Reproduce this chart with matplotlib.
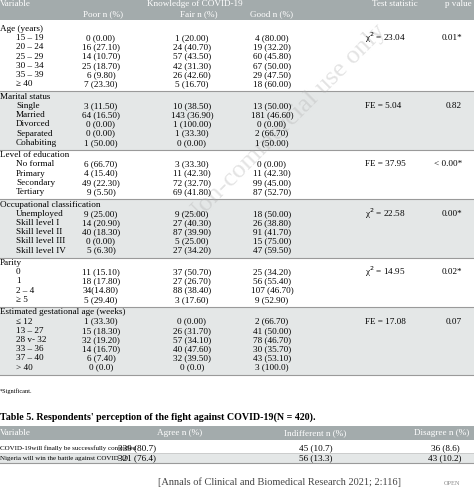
import matplotlib.pyplot as plt
from matplotlib.patches import Rectangle

plt.rcParams["font.family"] = ["Liberation Serif", "DejaVu Serif"]

groups = ["Age (years)", "Marital status", "Level of education",
          "Occupational classification", "Parity", "Estimated gestational age (weeks)"]
levels = [
    ["15 – 19", "20 – 24", "25 – 29", "30 – 34", "35 – 39", "≥ 40"],
    ["Single", "Married", "Divorced", "Separated", "Cohabiting"],
    ["No formal", "Primary", "Secondary", "Tertiary"],
    ["Unemployed", "Skill level I", "Skill level II", "Skill level III", "Skill level IV"],
    ["0", "1", "2 – 4", "≥ 5"],
    ["≤ 12", "13 – 27", "28 v- 32", "33 – 36", "37 – 40", "> 40"],
]
poor = [
    ["0 (0.00)", "16 (27.10)", "14 (10.70)", "25 (18.70)", "6 (9.80)", "7 (23.30)"],
    ["3 (11.50)", "64 (16.50)", "0 (0.00)", "0 (0.00)", "1 (50.00)"],
    ["6 (66.70)", "4 (15.40)", "49 (22.30)", "9 (5.50)"],
    ["9 (25.00)", "14 (20.90)", "40 (18.30)", "0 (0.00)", "5 (6.30)"],
    ["11 (15.10)", "18 (17.80)", "34(14.80)", "5 (29.40)"],
    ["1 (33.30)", "15 (18.30)", "32 (19.20)", "14 (16.70)", "6 (7.40)", "0 (0.0)"],
]
fair = [
    ["1 (20.00)", "24 (40.70)", "57 (43.50)", "42 (31.30)", "26 (42.60)", "5 (16.70)"],
    ["10 (38.50)", "143 (36.90)", "1 (100.00)", "1 (33.30)", "0 (0.00)"],
    ["3 (33.30)", "11 (42.30)", "72 (32.70)", "69 (41.80)"],
    ["9 (25.00)", "27 (40.30)", "87 (39.90)", "5 (25.00)", "27 (34.20)"],
    ["37 (50.70)", "27 (26.70)", "88 (38.40)", "3 (17.60)"],
    ["0 (0.00)", "26 (31.70)", "57 (34.10)", "40 (47.60)", "32 (39.50)", "0 (0.0)"],
]
good = [
    ["4 (80.00)", "19 (32.20)", "60 (45.80)", "67 (50.00)", "29 (47.50)", "18 (60.00)"],
    ["13 (50.00)", "181 (46.60)", "0 (0.00)", "2 (66.70)", "1 (50.00)"],
    ["0 (0.00)", "11 (42.30)", "99 (45.00)", "87 (52.70)"],
    ["18 (50.00)", "26 (38.80)", "91 (41.70)", "15 (75.00)", "47 (59.50)"],
    ["25 (34.20)", "56 (55.40)", "107 (46.70)", "9 (52.90)"],
    ["2 (66.70)", "41 (50.00)", "78 (46.70)", "30 (35.70)", "43 (53.10)", "3 (100.0)"],
]
stats = ["χ$^2$ = 23.04", "FE = 5.04", "FE = 37.95", "χ$^2$ = 22.58", "χ$^2$ = 14.95", "FE = 17.08"]
pvals = ["0.01*", "0.82", "< 0.00*", "0.00*", "0.02*", "0.07"]

t5_items = ["COVID-19will finally be successfully controlled", "Nigeria will win the battle against COVID-19"]
t5_agree = ["339 (80.7)", "321 (76.4)"]
t5_indiff = ["45 (10.7)", "56 (13.3)"]
t5_disagree = ["36 (8.6)", "43 (10.2)"]

HEAD = "#a3abac"
SHADE = "#e4e7e7"
LINE = "#9a9a9a"
FS = 6.6

fig = plt.figure(figsize=(4.74, 4.94), dpi=100)
ax = fig.add_axes([0, 0, 1, 1])
ax.set_xlim(0, 474); ax.set_ylim(494, 0); ax.axis("off")

# watermark (behind the table text)
ax.text(285, 125, "Non-commercial use only", fontsize=19, rotation=45, color="#b0b0b0",
        alpha=0.35, ha="center", va="center")

# header of table 4
ax.add_patch(Rectangle((0, 0), 474, 20, color=HEAD, lw=0))
ax.text(0, 4, "Variable", color="white", fontsize=FS, va="center")
ax.text(195, 4, "Knowledge of COVID-19", color="white", fontsize=FS, va="center", ha="center")
for x, lab in [(103, "Poor n (%)"), (199, "Fair n (%)"), (272, "Good n (%)")]:
    ax.text(x, 14, lab, color="white", fontsize=FS, va="center", ha="center")
ax.text(395, 4, "Test statistic", color="white", fontsize=FS, va="center", ha="center")
ax.text(472, 4, "p value", color="white", fontsize=FS, va="center", ha="right")

step = 9.2
y = 20
for g in range(len(groups)):
    n = len(levels[g])
    top = y
    ty = top + (9 if g == 0 else 5.5)
    bottom = ty + n * step + 7
    if g % 2 == 1:
        ax.add_patch(Rectangle((0, top), 474, bottom - top, color=SHADE, lw=0, zorder=0))
    ax.plot([0, 474], [bottom, bottom], color=LINE, lw=0.8)
    ax.text(0, ty, groups[g], fontsize=FS, va="center")
    for i in range(n):
        ry = ty + (i + 1) * step
        ax.text(16, ry, levels[g][i], fontsize=FS, va="center")
        ax.text(101, ry, poor[g][i], fontsize=FS, va="center", ha="center")
        ax.text(192, ry, fair[g][i], fontsize=FS, va="center", ha="center")
        ax.text(272, ry, good[g][i], fontsize=FS, va="center", ha="center")
    ax.text(365, ty + step, stats[g], fontsize=FS, va="center")
    ax.text(462, ty + step, pvals[g], fontsize=FS, va="center", ha="right")
    y = bottom

ax.text(0, 391, "*Significant.", fontsize=4.5, va="center")

# table 5
ax.text(0, 417, "Table 5. Respondents' perception of the fight against COVID-19(N = 420).",
        fontsize=7.2, fontweight="bold", va="center")
ax.add_patch(Rectangle((0, 426), 474, 14, color=HEAD, lw=0))
ax.text(0, 433, "Variable", color="white", fontsize=FS, va="center")
ax.text(180, 433, "Agree n (%)", color="white", fontsize=FS, va="center", ha="center")
ax.text(315, 433, "Indifferent n (%)", color="white", fontsize=FS, va="center", ha="center")
ax.text(442, 433, "Disagree n (%)", color="white", fontsize=FS, va="center", ha="center")
ax.add_patch(Rectangle((0, 453), 474, 10, color=SHADE, lw=0, zorder=0))
for i in range(len(t5_items)):
    ry = 448 + i * 10
    ax.text(0, ry, t5_items[i], fontsize=5.0, va="center")
    ax.text(118, ry, t5_agree[i], fontsize=FS, va="center")
    ax.text(316, ry, t5_indiff[i], fontsize=FS, va="center", ha="center")
    ax.text(445, ry, t5_disagree[i], fontsize=FS, va="center", ha="center")
ax.plot([0, 474], [453, 453], color="#c8c8c8", lw=0.6)
ax.plot([0, 474], [463, 463], color=LINE, lw=0.8)

ax.text(280, 482, "[Annals of Clinical and Biomedical Research 2021; 2:116]",
        fontsize=7.5, va="center", ha="center", color="#444444")
ax.text(452, 483, "OPEN", fontsize=4.5, va="center", ha="center", color="#888888")

fig.savefig("out.png", dpi=100)
